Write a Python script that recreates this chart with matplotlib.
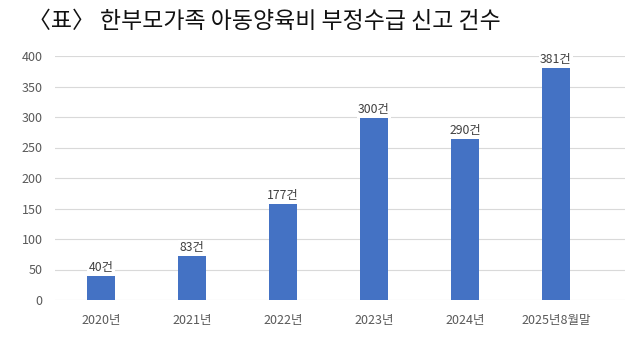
import numpy as np
import matplotlib.pyplot as plt

plt.rcParams['font.family'] = ['Noto Sans CJK KR', 'DejaVu Sans']

# data (bar heights as drawn, labels as printed)
categories = ['2020년', '2021년', '2022년', '2023년', '2024년', '2025년8월말']
bar_heights = [39, 72, 157, 298, 264, 380]
bar_labels = ['40건', '83건', '177건', '300건', '290건', '381건']
y_ticks = [0, 50, 100, 150, 200, 250, 300, 350, 400]

title = '〈표〉 한부모가족 아동양육비 부정수급 신고 건수'

fig = plt.figure(figsize=(6.4, 3.43), dpi=100)
ax = fig.add_axes([55 / 640, 1 - 300 / 343, 570 / 640, 244 / 343])

x = np.arange(len(categories))
ax.bar(x, bar_heights, width=0.31, color='#4472C4', zorder=3)

for xi, h, lab in zip(x, bar_heights, bar_labels):
    ax.text(xi, h + 3, lab, ha='center', va='bottom', fontsize=8.8,
            color='#404040', zorder=4, clip_on=False,
            bbox=dict(facecolor='white', edgecolor='none', pad=1.0))

ax.set_xlim(-0.505, 5.76)
ax.set_ylim(0, 400)
ax.set_yticks(y_ticks)
ax.set_xticks(x)
ax.set_xticklabels(categories)
ax.tick_params(axis='both', length=0, labelsize=9, labelcolor='#595959')
ax.tick_params(axis='y', pad=9)
ax.tick_params(axis='x', pad=10)
ax.grid(axis='y', color='#D9D9D9', linewidth=0.8, zorder=0)
for s in ax.spines.values():
    s.set_visible(False)

fig.text(28 / 640, 1 - 22 / 343, title, ha='left', va='center',
         fontsize=16.5, color='#111111')

fig.savefig('out.png', dpi=100, facecolor='white')
